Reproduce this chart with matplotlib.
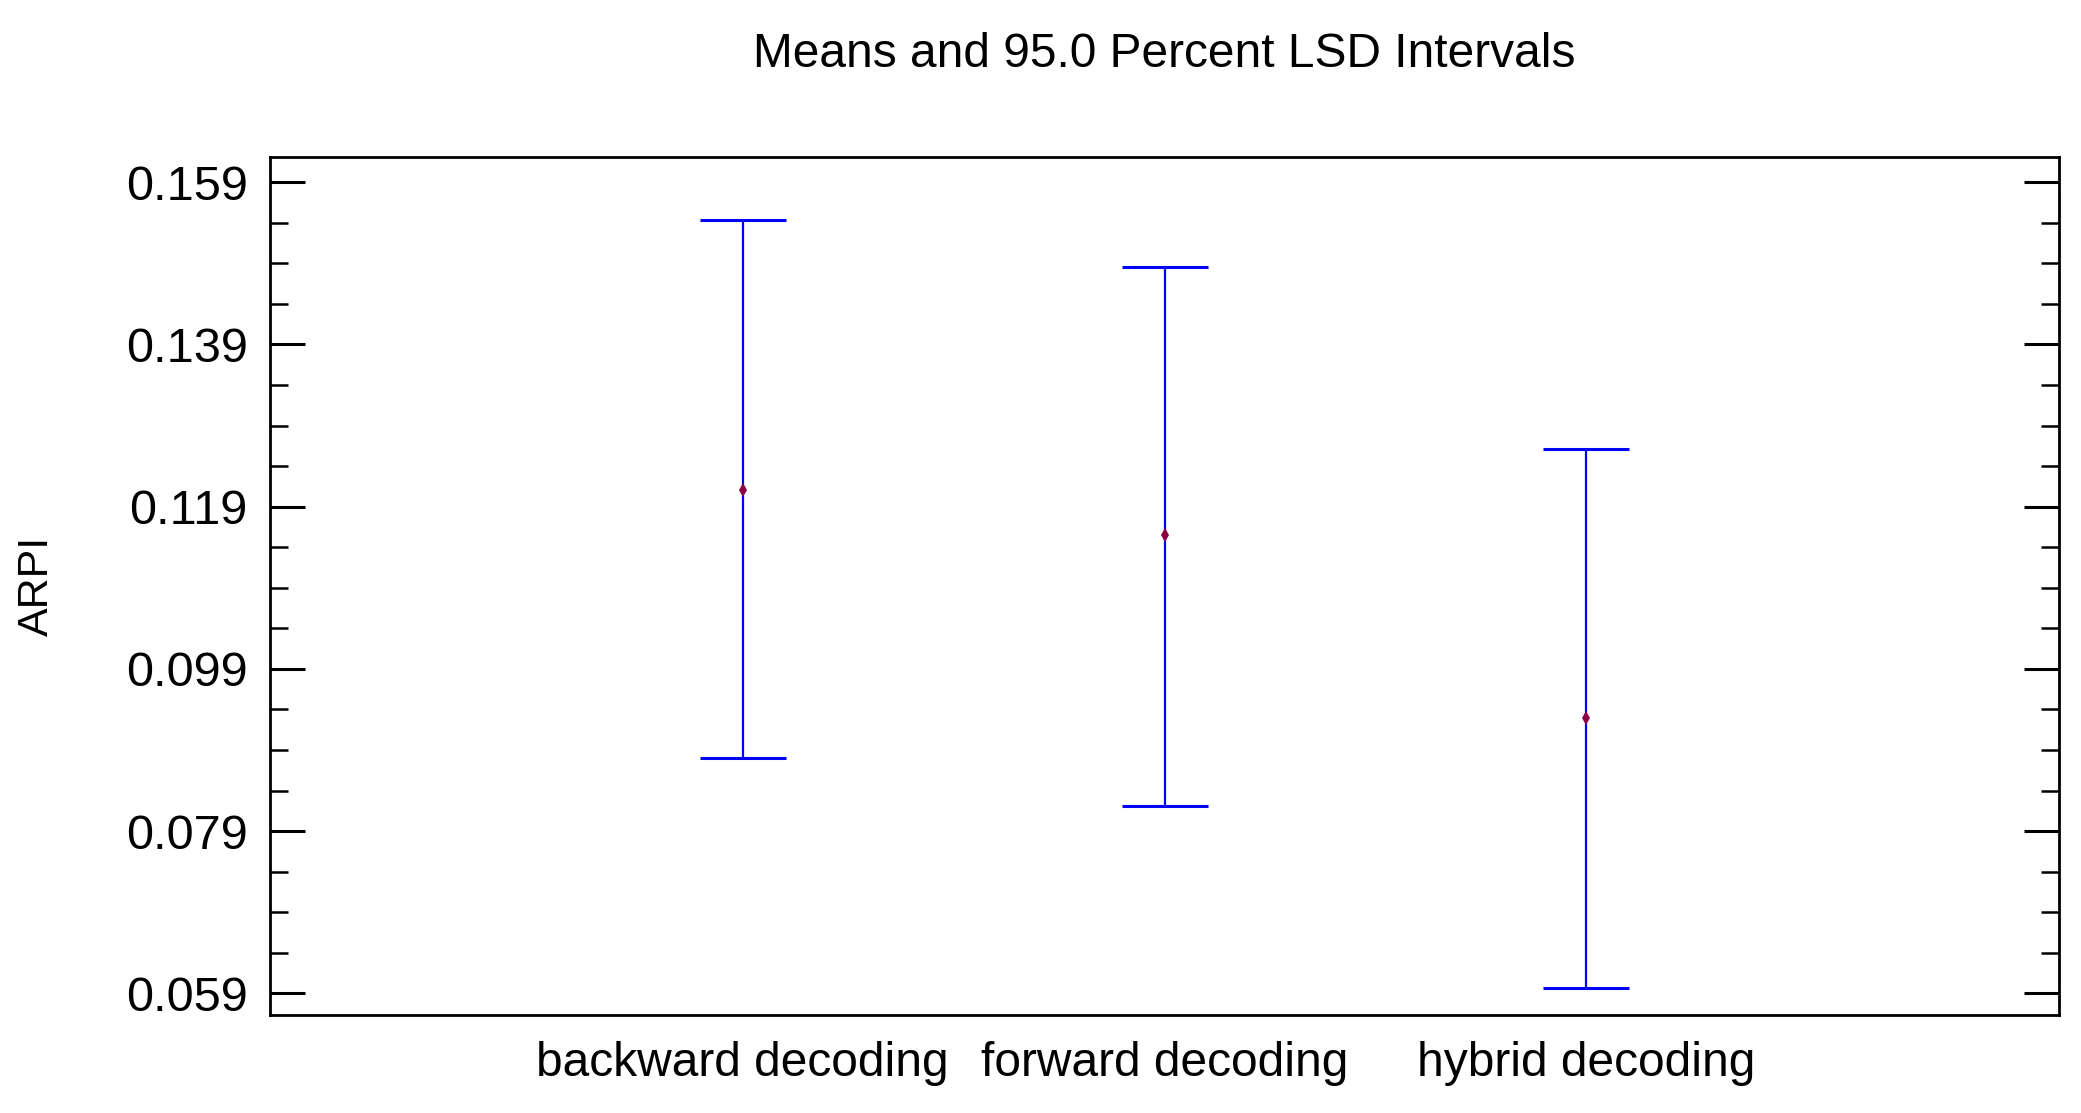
import matplotlib
matplotlib.use('Agg')
import matplotlib.pyplot as plt
import numpy as np
from matplotlib.ticker import FormatStrFormatter

plt.rcParams['font.family'] = ['Liberation Sans', 'DejaVu Sans']

# values
groups = ['backward decoding', 'forward decoding', 'hybrid decoding']
means = [0.1211, 0.1155, 0.0930]
lower = [0.0880, 0.0821, 0.0596]
upper = [0.1543, 0.1485, 0.1261]
y_ticks = [0.059, 0.079, 0.099, 0.119, 0.139, 0.159]

W, H = 2081, 1113
fig = plt.figure(figsize=(W / 100, H / 100), dpi=100)
ax = fig.add_axes([270 / W, 1 - 1015 / H, (2059 - 270) / W, (1015 - 157) / H])

x = np.arange(1, len(groups) + 1)
means_np = np.array(means)
yerr = [means_np - np.array(lower), np.array(upper) - means_np]

ax.errorbar(x, means_np, yerr=yerr, fmt='none', ecolor='#0000ff',
            elinewidth=1.6, capsize=31, capthick=2.2, zorder=2)
ax.plot(x, means_np, 'd', color='#8b0045', ms=7, mew=0, zorder=3)

ax.set_xlim(-0.12, 4.12)
ax.set_ylim(0.05632, 0.16212)

ax.set_xticks(x)
ax.set_xticklabels(groups, fontsize=34.5)
ax.tick_params(axis='x', length=0, pad=19)

# four minor ticks between majors, offset from 0.059
step = (y_ticks[1] - y_ticks[0]) / 4
minor = [t + k * step for t in y_ticks[:-1] for k in (1, 2, 3)]
ax.set_yticks(y_ticks)
ax.set_yticks(minor, minor=True)
ax.yaxis.set_major_formatter(FormatStrFormatter('%.3f'))
ax.tick_params(axis='y', which='major', direction='in', left=True, right=True,
               length=25, width=2.2, labelsize=35, pad=16)
ax.tick_params(axis='y', which='minor', direction='in', left=True, right=True,
               length=13, width=1.8)

for sp in ax.spines.values():
    sp.set_linewidth(2.0)

ax.set_ylabel('ARPI', fontsize=31)
ax.yaxis.set_label_coords(-0.119, 0.5)

fig.text(1164.5 / W, 1 - 67 / H, 'Means and 95.0 Percent LSD Intervals',
         ha='center', va='baseline', fontsize=34.5)

fig.savefig('out.png', dpi=100)
